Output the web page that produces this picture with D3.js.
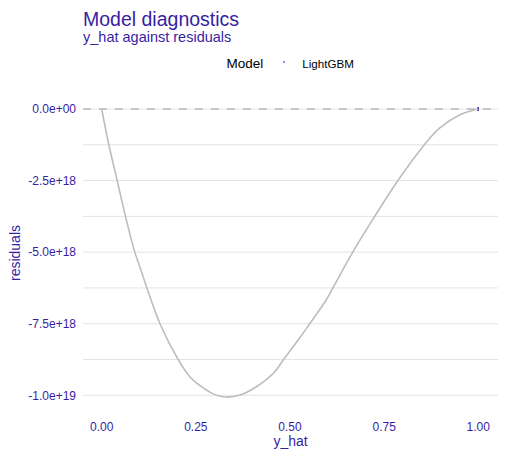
<!DOCTYPE html>
<html>
<head>
<meta charset="utf-8">
<script src="https://d3js.org/d3.v7.min.js"></script>
<style>
    body { margin: 0; background: #ffffff; }
    text { font-family: "Liberation Sans", Arial, sans-serif; }
    .grid line { stroke: #e3e3e3; stroke-width: 1px; }
    .tick-label { font-size: 12px; fill: #371ea3; }
    .axis-title { font-size: 14px; fill: #371ea3; }
</style>
</head>
<body>
<div id="chart"></div>
<script>

    // values (residuals in units of 1e18)
    const yHat = [0, 0.0186, 0.041, 0.063, 0.0876, 0.101, 0.120, 0.155, 0.203, 0.234, 0.265, 0.296, 0.327,
                  0.367, 0.411, 0.456, 0.483, 0.500, 0.525, 0.555, 0.596, 0.614, 0.667, 0.725, 0.787,
                  0.858, 0.897, 0.950, 1.0];
    const residuals = [0, -1.23, -2.49, -3.74, -4.99, -5.50, -6.25, -7.51, -8.75, -9.35, -9.70, -9.95, -10.06,
                       -9.99, -9.70, -9.23, -8.75, -8.45, -8.01, -7.45, -6.67, -6.25, -4.99, -3.75, -2.49,
                       -1.23, -0.67, -0.21, 0];
    // observed points (almost all sit at the right end)
    const pointYHat = [0.999, 1.0, 1.0];
    const pointResid = [0, 0, 0];

    const xTicks = [0, 0.25, 0.5, 0.75, 1];
    const yTicks = [0, -2.5, -5, -7.5, -10];
    const yMinor = [-1.25, -3.75, -6.25, -8.75];
    const modelName = "LightGBM";

    const width = 506, height = 459;
    const panel = {left: 83, right: 498};

    const svg = d3.select("#chart")
        .append("svg")
        .attr("width", width)
        .attr("height", height);

    const x = d3.scaleLinear()
        .domain([0, 1])
        .range([101.7, 478.3]);

    const y = d3.scaleLinear()
        .domain([-10, 0])
        .range([395.3, 109]);

    // exponent formatter like R's scientific labels
    const sci = function(v) {
        if (v === 0) return "0.0e+00";
        const e = Math.floor(Math.log10(Math.abs(v)));
        const m = v / Math.pow(10, e);
        return m.toFixed(1) + "e+" + String(e).padStart(2, "0");
    };

    // gridlines
    const grid = svg.append("g").attr("class", "grid");
    grid.selectAll("line.minor")
        .data(yMinor)
        .join("line")
        .attr("class", "minor")
        .attr("x1", panel.left).attr("x2", panel.right)
        .attr("y1", d => y(d)).attr("y2", d => y(d));
    grid.selectAll("line.major")
        .data(yTicks)
        .join("line")
        .attr("class", "major")
        .attr("x1", panel.left).attr("x2", panel.right)
        .attr("y1", d => y(d)).attr("y2", d => y(d));

    // dashed zero line
    svg.append("line")
        .attr("x1", panel.left).attr("x2", panel.right)
        .attr("y1", y(0)).attr("y2", y(0))
        .attr("stroke", "#b8b8b8")
        .attr("stroke-width", 1.6)
        .attr("stroke-dasharray", "8,8");

    // points
    svg.selectAll("rect.pt")
        .data(pointYHat)
        .join("rect")
        .attr("class", "pt")
        .attr("x", d => x(d) - 0.7)
        .attr("y", (d, i) => y(pointResid[i]) - 1.5)
        .attr("width", 1.4)
        .attr("height", 3)
        .attr("fill", "#371ea3");

    // smooth line
    const line = d3.line()
        .x((d, i) => x(yHat[i]))
        .y(d => y(d))
        .curve(d3.curveCatmullRom.alpha(0.5));
    svg.append("path")
        .datum(residuals)
        .attr("d", line)
        .attr("fill", "none")
        .attr("stroke", "#bdbdbd")
        .attr("stroke-width", 1.6);

    // y tick labels
    svg.selectAll("text.ylab")
        .data(yTicks)
        .join("text")
        .attr("class", "tick-label ylab")
        .attr("x", 76)
        .attr("y", d => y(d))
        .attr("dy", "0.35em")
        .attr("text-anchor", "end")
        .text(d => sci(d * 1e18));

    // x tick labels
    svg.selectAll("text.xlab")
        .data(xTicks)
        .join("text")
        .attr("class", "tick-label xlab")
        .attr("x", d => x(d))
        .attr("y", 431)
        .attr("text-anchor", "middle")
        .text(d => d3.format(".2f")(d));

    // axis titles
    svg.append("text")
        .attr("class", "axis-title")
        .attr("x", (panel.left + panel.right) / 2)
        .attr("y", 446)
        .attr("text-anchor", "middle")
        .text("y_hat");
    svg.append("text")
        .attr("class", "axis-title")
        .attr("transform", "translate(20, 253) rotate(-90)")
        .attr("text-anchor", "middle")
        .text("residuals");

    // title + subtitle
    svg.append("text")
        .attr("x", panel.left)
        .attr("y", 26)
        .style("font-size", "19.5px")
        .style("fill", "#371ea3")
        .text("Model diagnostics");
    svg.append("text")
        .attr("x", panel.left)
        .attr("y", 42)
        .style("font-size", "14.5px")
        .style("fill", "#371ea3")
        .text("y_hat against residuals");

    // legend
    svg.append("text")
        .attr("x", 226.5)
        .attr("y", 67.5)
        .style("font-size", "13.5px")
        .style("fill", "#000000")
        .text("Model");
    svg.append("rect")
        .attr("x", 283.3)
        .attr("y", 61.3)
        .attr("width", 1.4)
        .attr("height", 1.4)
        .attr("fill", "#371ea3");
    svg.append("text")
        .attr("x", 302.3)
        .attr("y", 67.5)
        .style("font-size", "11.6px")
        .style("fill", "#000000")
        .text(modelName);

</script>
</body>
</html>
